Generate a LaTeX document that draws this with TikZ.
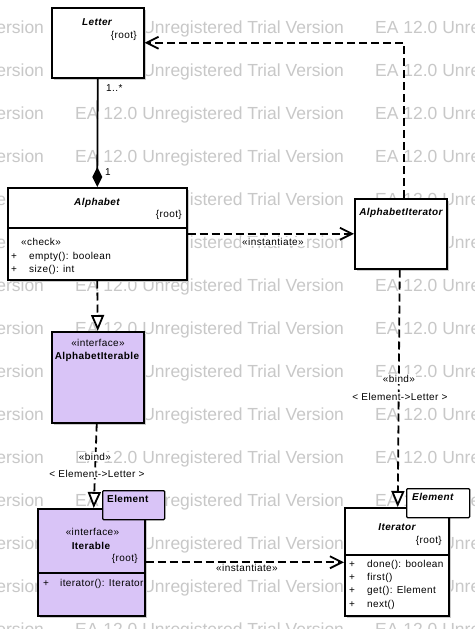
\documentclass[tikz,border=0pt]{standalone}
\usepackage{fontspec}
\setmainfont{Liberation Sans}
\newfontfamily\eafont[LetterSpace=4]{Liberation Sans}
\newfontfamily\wmfont{Liberation Sans}
\usetikzlibrary{arrows.meta,shadows}
\definecolor{ifill}{RGB}{217,196,247}
\definecolor{wmgray}{RGB}{200,200,200}
\begin{document}
\begin{tikzpicture}[x=1pt,y=-1pt,
  box/.style={draw=black, line width=1.5pt, fill=white, inner sep=0pt, anchor=north west,
    drop shadow={shadow xshift=2pt, shadow yshift=-2pt, fill=gray!40, opacity=1}},
  ibox/.style={box, fill=ifill},
  tbox/.style={draw=black, line width=1.3pt, inner sep=0pt, anchor=north west, rounded corners=1pt},
  txt/.style={inner sep=0pt, font=\eafont\fontsize{10}{12}\selectfont, anchor=base},
  txtl/.style={txt, anchor=base west},
  txtr/.style={txt, anchor=base east},
  lbl/.style={txt, fill=white, inner sep=1pt},
  wm/.style={inner sep=0pt, anchor=base west, text=wmgray, font=\wmfont\fontsize{17.5}{20}\selectfont},
  conn/.style={line width=1.8pt, draw=black},
  dashc/.style={conn, dash pattern=on 8pt off 4pt},
  vee/.style={-{Straight Barb[length=12pt,width=12pt]}},
  tri/.style={-{Triangle[length=16pt,width=13pt,fill=white]}},
  divider/.style={line width=1.3pt}
]
\useasboundingbox (0,0) rectangle (474,629);
\fill[white] (0,0) rectangle (474,629);
% watermark
\begin{scope}
\clip (0,0) rectangle (474,629);
\foreach \r in {0,...,14} {
  \foreach \c in {0,1,2} {
    \node[wm] (wm-\r-\c) at ({-225+300*\c},{33+43*\r}) {EA 12.0 Unregistered Trial Version};
  }
}
\end{scope}

% class boxes
\node[box, minimum width=92pt, minimum height=70pt] (letter) at (51,7) {};
\node[box, minimum width=179pt, minimum height=92pt] (alphabet) at (7,187) {};
\node[box, minimum width=92pt, minimum height=70pt] (aiter) at (354,198) {};
\node[ibox, minimum width=92pt, minimum height=91pt] (aiterable) at (51,331) {};
\node[ibox, minimum width=107pt, minimum height=107pt] (iterable) at (37,508) {};
\node[box, minimum width=104pt, minimum height=108pt] (iterator) at (344,507) {};

% dividers
\draw[divider] (7,228) -- (186,228);
\draw[divider] (37,573) -- (144,573);
\draw[divider] (344,555) -- (448,555);

% connectors
\draw[conn, {Diamond[length=20pt,width=10pt]}-] (alphabet.north) -- (letter.south);
\draw[dashc, vee] ([xshift=3pt]aiter.north) |- (letter.east);
\draw[dashc, vee] (alphabet.east) -- (aiter.west);
\draw[dashc, tri] (alphabet.south) -- (aiterable.north);
\draw[dashc, tri] ([xshift=-1pt]aiterable.south) -- ([xshift=2.5pt]iterable.north);
\draw[dashc, tri] ([xshift=-1pt]aiter.south) -- ([xshift=1pt]iterator.north);
\draw[dashc, vee] (iterable.east) -- (iterator.west |- iterable.east);

% template boxes
\node[tbox, fill=ifill, minimum width=62pt, minimum height=29pt] (elem1) at (102,490) {};
\node[tbox, fill=white, minimum width=63pt, minimum height=29pt] (elem2) at (406,488) {};
\node[txtl, font=\eafont\fontsize{10}{12}\selectfont\bfseries] (elem1t) at (107,502.3) {Element};
\node[txtl, font=\eafont\fontsize{10}{12}\selectfont\bfseries\itshape] (elem2t) at (412,500) {Element};

% Letter
\node[txt, font=\eafont\fontsize{10}{12}\selectfont\bfseries\itshape] (lettert) at (97,25) {Letter};
\node[txtr] (letterr) at (137,38) {\{root\}};
% Alphabet
\node[txt, font=\eafont\fontsize{10}{12}\selectfont\bfseries\itshape] (alphat) at (97,205) {Alphabet};
\node[txtr] (alphar) at (182,217.3) {\{root\}};
\node[txtl] (alphas) at (21,245.7) {«check»};
\node[txt] (alphap1) at (14,259) {+};
\node[txtl] (alpham1) at (29,259) {empty(): boolean};
\node[txt] (alphap2) at (14,272.3) {+};
\node[txtl] (alpham2) at (29,272.3) {size(): int};
% AlphabetIterator
\node[txt, font=\eafont\fontsize{10}{12}\selectfont\bfseries\itshape] (aitert) at (401,215.7) {AlphabetIterator};
% AlphabetIterable
\node[txt] (aiterables) at (98,346) {«interface»};
\node[txt, font=\eafont\fontsize{10}{12}\selectfont\bfseries] (aiterablet) at (97,359) {AlphabetIterable};
% Iterable
\node[txt] (iterables) at (92.5,535) {«interface»};
\node[txt, font=\eafont\fontsize{10}{12}\selectfont\bfseries] (iterablet) at (91,549) {Iterable};
\node[txtr] (iterabler) at (138,561.7) {\{root\}};
\node[txt] (iterablep) at (46,586) {+};
\node[txtl] (iterablem) at (60,586) {iterator(): Iterator};
% Iterator
\node[txt, font=\eafont\fontsize{10}{12}\selectfont\bfseries\itshape] (iteratort) at (397,530.7) {Iterator};
\node[txtr] (iteratorr) at (442,543.3) {\{root\}};
\node[txt] (itp1) at (352,567.3) {+};
\node[txtl] (itm1) at (367,567.3) {done(): boolean};
\node[txt] (itp2) at (352,580.3) {+};
\node[txtl] (itm2) at (367,580.3) {first()};
\node[txt] (itp3) at (352,593.7) {+};
\node[txtl] (itm3) at (367,593.7) {get(): Element};
\node[txt] (itp4) at (352,607) {+};
\node[txtl] (itm4) at (367,607) {next()};

% connector labels
\node[txtl] (m1) at (106,91.7) {1..*};
\node[txtl] (m2) at (105,175.7) {1};
\node[lbl] (inst1) at (273,245) {«instantiate»};
\node[lbl] (inst2) at (247,571) {«instantiate»};
\node[lbl] (bind1) at (95,460) {«bind»};
\node[lbl] (bind1b) at (97,477.3) {< Element->Letter >};
\node[lbl] (bind2) at (399,382.7) {«bind»};
\node[lbl] (bind2b) at (400,400) {< Element->Letter >};
\end{tikzpicture}
\end{document}
